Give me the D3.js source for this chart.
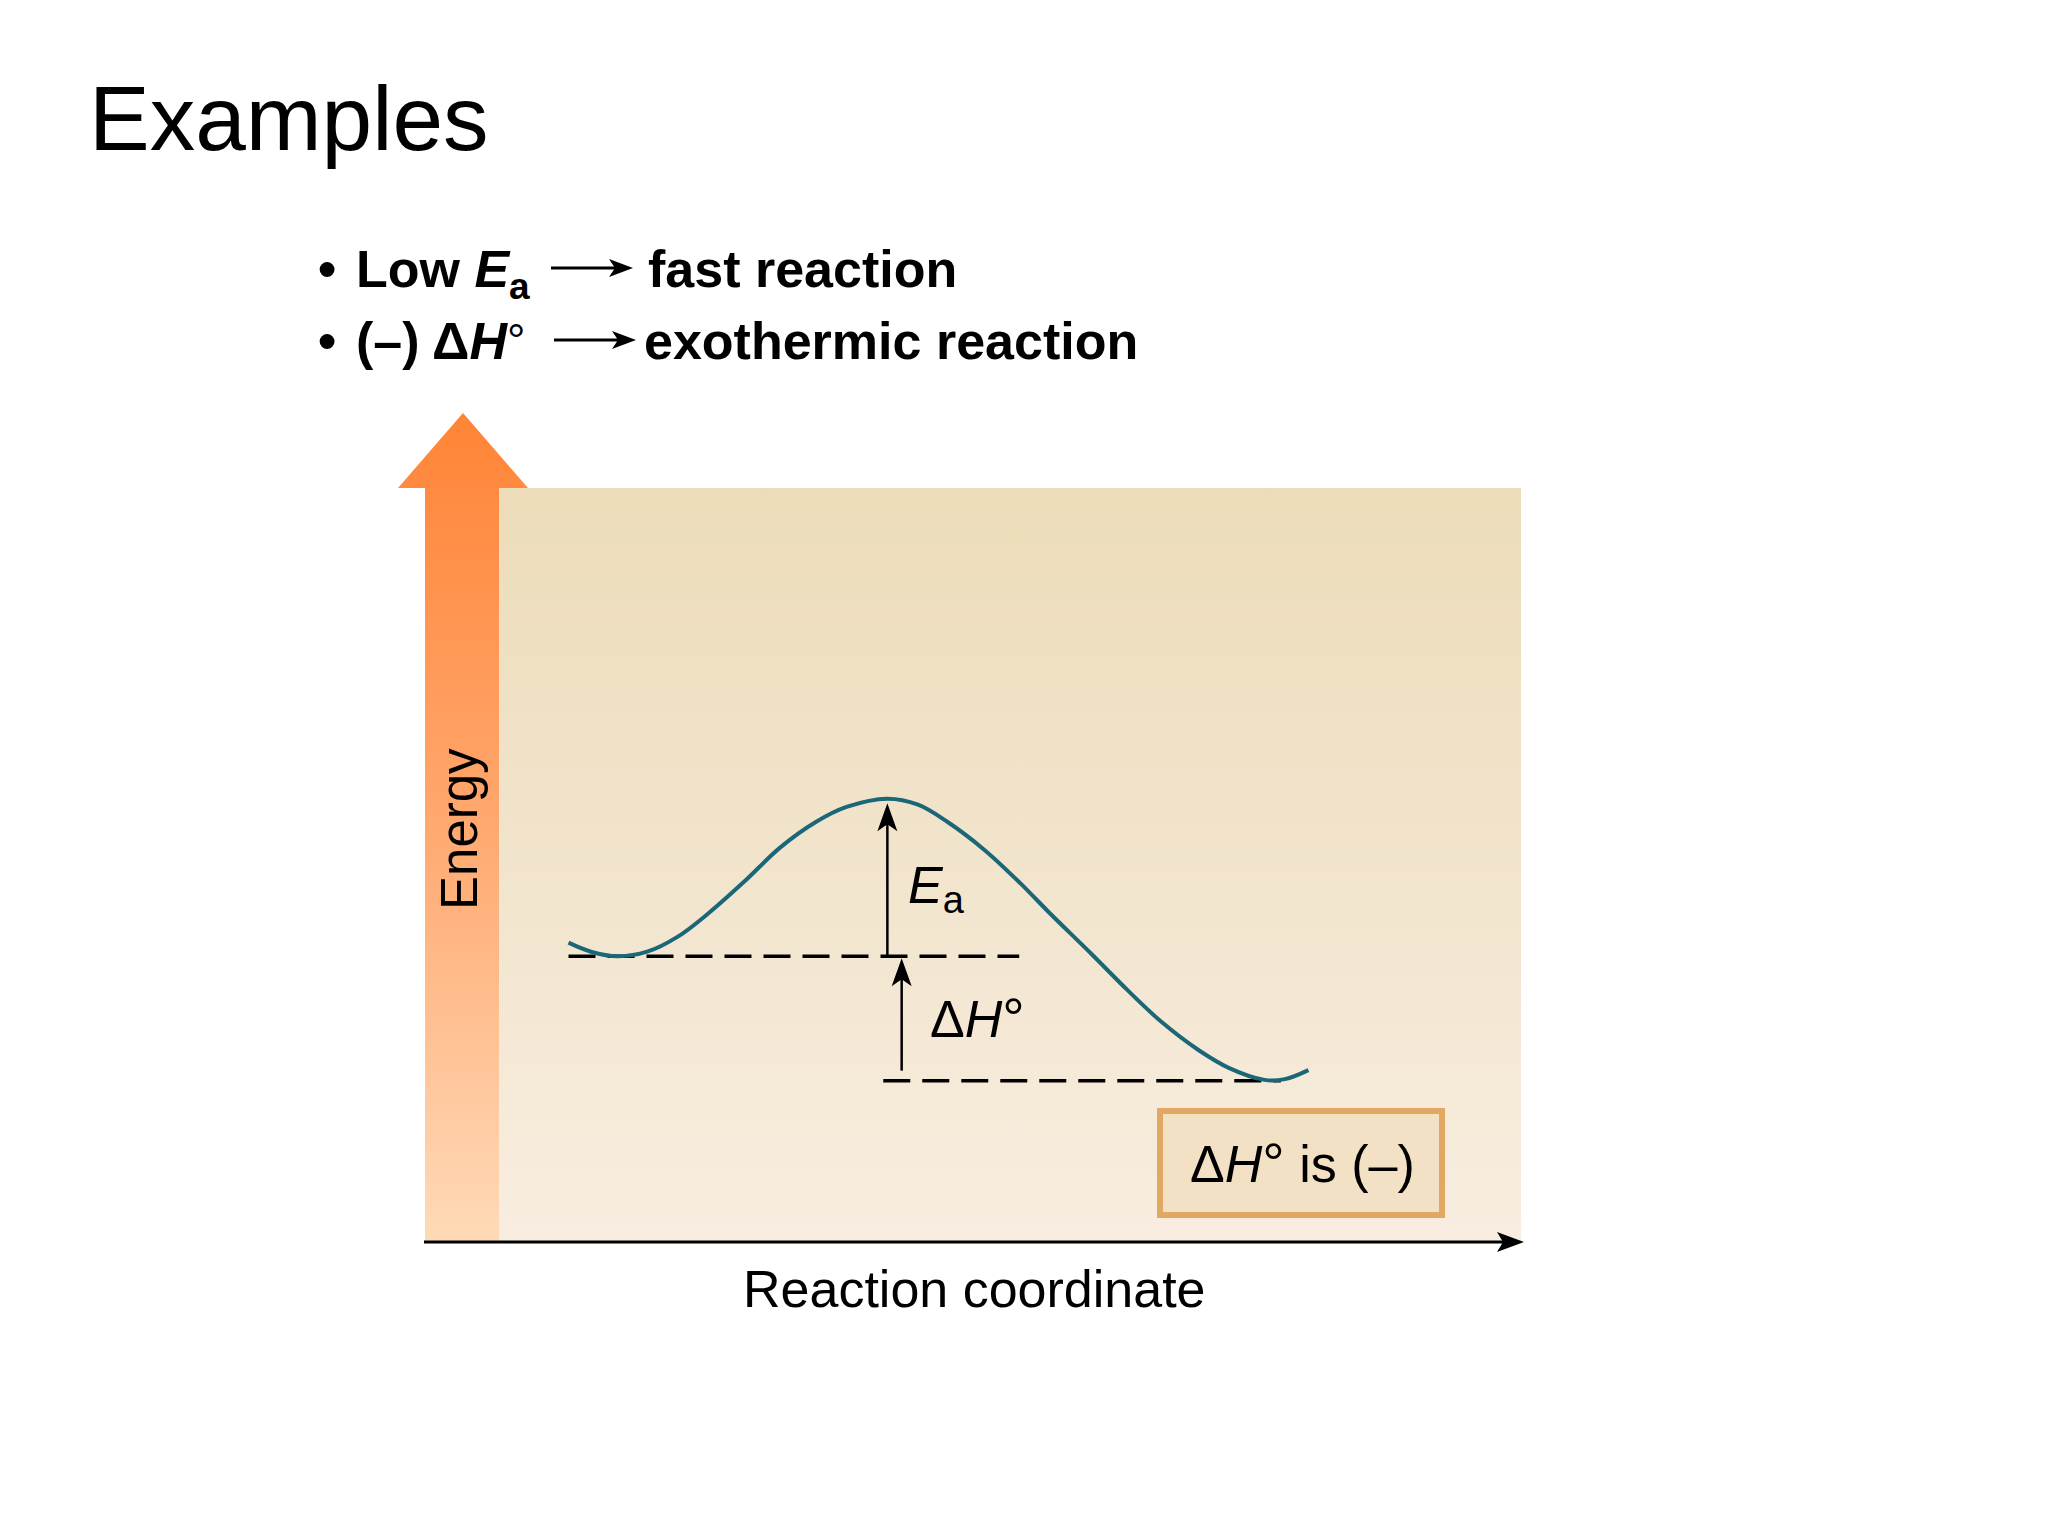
<!DOCTYPE html>
<html>
<head>
<meta charset="utf-8">
<script src="https://cdn.jsdelivr.net/npm/d3@7"></script>
<style>
  body { margin: 0; background: #fff; }
  text { font-family: "Liberation Sans", Arial, Helvetica, sans-serif; }
</style>
</head>
<body>
<script>
// data: reaction coordinate (0-100) vs energy (0-100)
var coord  = [6.8, 9.0, 11.6, 14.5, 17.5, 20.5, 24.0, 27.5, 31.0, 34.0, 38.0, 41.0, 43.9, 47.5, 51.0, 53.9, 57.9, 61.5, 64.9, 68.4, 71.4, 74.9, 76.9, 79.2];
var energy = [39.7, 38.5, 37.9, 38.5, 40.5, 43.6, 47.8, 52.3, 55.7, 57.7, 58.8, 58.0, 55.7, 52.0, 47.6, 43.6, 38.3, 33.4, 29.1, 25.5, 23.1, 21.5, 21.6, 22.8];

// energy levels: reactants, products, transition state
var levelNames  = ['reactants', 'products', 'transition'];
var levelValues = [37.9, 21.4, 58.6];
// dashed guide lines [from, to] along the reaction coordinate
var dashFrom = [6.8, 37.6];
var dashTo   = [50.9, 76.5];

var titleText = 'Examples';
var xLabel = 'Reaction coordinate';
var yLabel = 'Energy';

var W = 2048, H = 1536;

var svg = d3.select('body').append('svg')
  .attr('width', W).attr('height', H);

var defs = svg.append('defs');
var gArrow = defs.append('linearGradient').attr('id', 'gArrow')
  .attr('x1', 0).attr('y1', 0).attr('x2', 0).attr('y2', 1);
gArrow.append('stop').attr('offset', '0%').attr('stop-color', '#ff8436');
gArrow.append('stop').attr('offset', '45%').attr('stop-color', '#ffa469');
gArrow.append('stop').attr('offset', '100%').attr('stop-color', '#ffdab8');

var gPanel = defs.append('linearGradient').attr('id', 'gPanel')
  .attr('x1', 0).attr('y1', 0).attr('x2', 0).attr('y2', 1);
gPanel.append('stop').attr('offset', '0%').attr('stop-color', '#ecdcb9');
gPanel.append('stop').attr('offset', '100%').attr('stop-color', '#f8ede0');

//scales
var x = d3.scaleLinear().domain([0, 100]).range([499, 1521]);
var y = d3.scaleLinear().domain([0, 100]).range([1242, 488]);

//title
svg.append('text')
  .attr('x', 89).attr('y', 150)
  .attr('font-size', 91)
  .text(titleText);

//bullet lines
function bulletArrow(x1, x2, yy) {
  svg.append('line')
    .attr('x1', x1).attr('y1', yy).attr('x2', x2 - 14).attr('y2', yy)
    .attr('stroke', '#000').attr('stroke-width', 3);
  svg.append('path')
    .attr('d', 'M' + x2 + ',' + yy + 'L' + (x2 - 24) + ',' + (yy - 9) + 'L' + (x2 - 18) + ',' + yy + 'L' + (x2 - 24) + ',' + (yy + 9) + 'Z')
    .attr('fill', '#000');
}

var b1 = svg.append('text').attr('x', 318).attr('y', 287)
  .attr('font-size', 52).attr('font-weight', 'bold');
b1.append('tspan').text('\u2022 ');
b1.append('tspan').attr('x', 356).text('Low ');
b1.append('tspan').attr('font-style', 'italic').text('E');
b1.append('tspan').attr('font-size', 37).attr('dy', 12).text('a');
bulletArrow(551, 633, 268);
svg.append('text').attr('x', 648).attr('y', 287)
  .attr('font-size', 52).attr('font-weight', 'bold')
  .text('fast reaction');

var b2 = svg.append('text').attr('x', 318).attr('y', 359)
  .attr('font-size', 52).attr('font-weight', 'bold');
b2.append('tspan').text('\u2022 ');
b2.append('tspan').attr('x', 356).text('(\u2013) \u0394');
b2.append('tspan').attr('font-style', 'italic').text('H');
b2.append('tspan').attr('font-weight', 'normal').attr('font-size', 46).attr('dy', -2).text('\u00b0');
bulletArrow(554, 636, 340);
svg.append('text').attr('x', 644).attr('y', 359)
  .attr('font-size', 52).attr('font-weight', 'bold')
  .text('exothermic reaction');

//panel
svg.append('rect')
  .attr('x', x(0)).attr('y', y(100))
  .attr('width', x(100) - x(0)).attr('height', y(0) - y(100))
  .attr('fill', 'url(#gPanel)');

//energy arrow
var ax0 = 425, ax1 = 499, headL = 398, headR = 528, tipY = 413;
svg.append('path')
  .attr('d', 'M' + ax0 + ',' + y(0) + 'L' + ax0 + ',' + y(100) + 'L' + headL + ',' + y(100) +
    'L' + ((headL + headR) / 2) + ',' + tipY + 'L' + headR + ',' + y(100) +
    'L' + ax1 + ',' + y(100) + 'L' + ax1 + ',' + y(0) + 'Z')
  .attr('fill', 'url(#gArrow)');

svg.append('text')
  .attr('transform', 'translate(477,910) rotate(-90)')
  .attr('font-size', 51)
  .text(yLabel);

//x axis
svg.append('line')
  .attr('x1', 424).attr('y1', y(0)).attr('x2', x(100) - 10).attr('y2', y(0))
  .attr('stroke', '#000').attr('stroke-width', 3);
svg.append('path')
  .attr('d', 'M' + (x(100) + 3) + ',' + y(0) + 'L' + (x(100) - 24) + ',' + (y(0) - 10) +
    'L' + (x(100) - 18) + ',' + y(0) + 'L' + (x(100) - 24) + ',' + (y(0) + 10) + 'Z')
  .attr('fill', '#000');

svg.append('text')
  .attr('x', 743).attr('y', 1307)
  .attr('font-size', 52)
  .text(xLabel);

//dashed levels
svg.selectAll('.level')
  .data([0, 1])
  .enter().append('line')
  .attr('class', 'level')
  .attr('x1', function(i) { return x(dashFrom[i]); })
  .attr('x2', function(i) { return x(dashTo[i]); })
  .attr('y1', function(i) { return y(levelValues[i]); })
  .attr('y2', function(i) { return y(levelValues[i]); })
  .attr('stroke', '#000').attr('stroke-width', 3.5)
  .attr('stroke-dasharray', '27,12');

//curve
var pts = coord.map(function(c, i) { return [c, energy[i]]; });
var line = d3.line()
  .x(function(d) { return x(d[0]); })
  .y(function(d) { return y(d[1]); })
  .curve(d3.curveCatmullRom);
svg.append('path')
  .datum(pts)
  .attr('d', line)
  .attr('fill', 'none')
  .attr('stroke', '#1b6677')
  .attr('stroke-width', 4);

//up arrows for Ea and dH
function upArrow(xc, yFrom, yTo) {
  svg.append('line')
    .attr('x1', xc).attr('x2', xc)
    .attr('y1', yFrom).attr('y2', yTo + 20)
    .attr('stroke', '#000').attr('stroke-width', 2.5);
  svg.append('path')
    .attr('d', 'M' + xc + ',' + yTo + 'L' + (xc - 10) + ',' + (yTo + 28) + 'L' + xc + ',' + (yTo + 21) +
      'L' + (xc + 10) + ',' + (yTo + 28) + 'Z')
    .attr('fill', '#000');
}
upArrow(x(38.0), y(levelValues[0]), y(levelValues[2]) + 3);
upArrow(x(39.4), y(levelValues[1]) - 10, y(levelValues[0]) + 2);

var ea = svg.append('text').attr('x', 908).attr('y', 903).attr('font-size', 52);
ea.append('tspan').attr('font-style', 'italic').text('E');
ea.append('tspan').attr('font-size', 38).attr('dy', 10).text('a');

var dh = svg.append('text').attr('x', 930).attr('y', 1037).attr('font-size', 52);
dh.append('tspan').text('\u0394');
dh.append('tspan').attr('font-style', 'italic').text('H');
dh.append('tspan').attr('font-size', 56).text('\u00b0');

//box
svg.append('rect')
  .attr('x', 1160).attr('y', 1111).attr('width', 282).attr('height', 104)
  .attr('fill', '#f3e1c6').attr('stroke', '#e0a862').attr('stroke-width', 6);
var bt = svg.append('text').attr('x', 1190).attr('y', 1182).attr('font-size', 52);
bt.append('tspan').text('\u0394');
bt.append('tspan').attr('font-style', 'italic').text('H');
bt.append('tspan').attr('font-size', 56).text('\u00b0');
bt.append('tspan').text(' is (\u2013)');
</script>
</body>
</html>
